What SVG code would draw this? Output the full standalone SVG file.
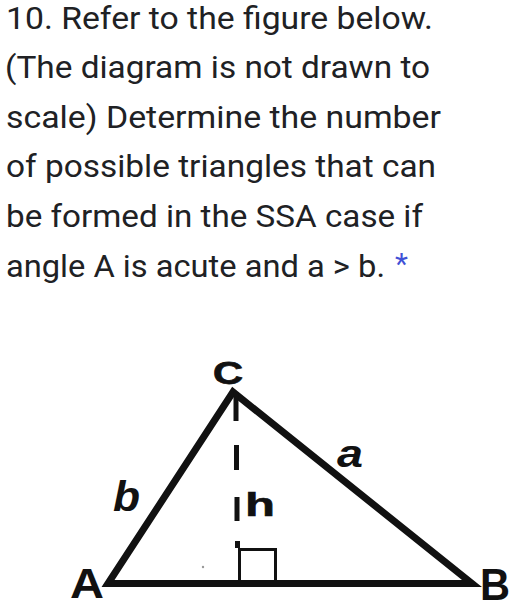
<svg xmlns="http://www.w3.org/2000/svg" width="516" height="608" viewBox="0 0 516 608">
<style>
.q{font-family:Roboto,"Noto Sans",sans-serif;font-size:31px;fill:#202124}
.lbl{font-family:"Liberation Sans",Arial,sans-serif;font-weight:bold;fill:#111}
.it{font-style:italic}
.edge{fill:none;stroke:#111;stroke-width:7;stroke-linejoin:miter}
.alt{fill:#111}
</style>
<rect width="516" height="608" fill="#fff"/>
<g id="question">
<text class="q" x="6" y="29" textLength="427" lengthAdjust="spacingAndGlyphs">10. Refer to the figure below.</text>
<text class="q" x="5" y="78" textLength="425" lengthAdjust="spacingAndGlyphs">(The diagram is not drawn to</text>
<text class="q" x="6" y="128" textLength="435" lengthAdjust="spacingAndGlyphs">scale) Determine the number</text>
<text class="q" x="6" y="177" textLength="430" lengthAdjust="spacingAndGlyphs">of possible triangles that can</text>
<text class="q" x="6" y="227" textLength="417" lengthAdjust="spacingAndGlyphs">be formed in the SSA case if</text>
<text class="q" x="6" y="277" textLength="379" lengthAdjust="spacingAndGlyphs">angle A is acute and a &gt; b.</text>
<text x="395" y="274" font-family="Roboto,sans-serif" font-size="30" fill="#3f51d6">*</text>
</g>
<g id="connectors">
<polygon id="triangle" class="edge" points="108,583.5 233,392 472,583.5"/>
<g id="altitude">
<rect class="alt" x="233.5" y="392" width="5" height="29"/>
<rect class="alt" x="234" y="445" width="5" height="25"/>
<rect class="alt" x="234.5" y="497" width="5" height="24"/>
<rect class="alt" x="235" y="541" width="5" height="7"/>
</g>
<rect id="right-angle" x="239.5" y="549.5" width="36" height="34" fill="none" stroke="#111" stroke-width="3"/>
<circle cx="203" cy="567" r="1.2" fill="#999"/>
</g>
<g id="node-C"><text class="lbl" x="213" y="384" font-size="32" textLength="30" lengthAdjust="spacingAndGlyphs" stroke="#111" stroke-width="0.8">C</text></g>
<g id="node-A"><text class="lbl" x="70" y="598" font-size="42" textLength="34" lengthAdjust="spacingAndGlyphs">A</text></g>
<g id="node-B"><text class="lbl" x="480" y="600" font-size="44" textLength="30" lengthAdjust="spacingAndGlyphs">B</text></g>
<g id="label-a"><text class="lbl it" x="337" y="467" font-size="38" textLength="26" lengthAdjust="spacingAndGlyphs">a</text></g>
<g id="label-b"><text class="lbl it" x="113" y="511" font-size="42" textLength="27" lengthAdjust="spacingAndGlyphs">b</text></g>
<g id="label-h"><text class="lbl" x="245" y="516" font-size="33" textLength="30" lengthAdjust="spacingAndGlyphs" stroke="#111" stroke-width="0.6">h</text></g>
</svg>
